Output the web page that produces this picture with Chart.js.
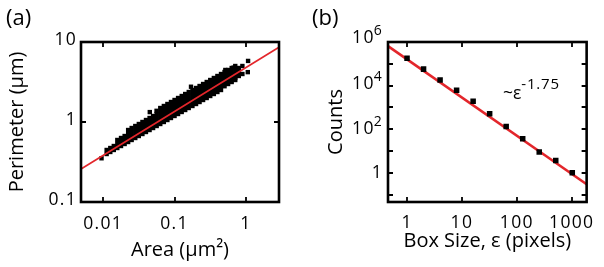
<!DOCTYPE html>
<html>
<head>
<meta charset="utf-8">
<script src="https://cdn.jsdelivr.net/npm/chart.js@4"></script>
<style>
body{margin:0;background:#fff;}
#wrap{position:relative;width:604px;height:267px;}
canvas{position:absolute;top:0;}
</style>
</head>
<body>
<div id="wrap">
<canvas id="chartA" width="300" height="267" style="left:0"></canvas>
<canvas id="chartB" width="304" height="267" style="left:300px"></canvas>
</div>
<script>
var FONT = '"Open Sans"';
var RED = '#e3262b';

// (a) perimeter vs area
var areaTicks = [0.01, 0.1, 1];
var perimTicks = [0.1, 1, 10];
var cloudArea = [
  0.0095,
  0.0112, 0.0112,
  0.0126, 0.0126,
  0.0141, 0.0141,
  0.0158, 0.0158, 0.0158,
  0.0178, 0.0178, 0.0178,
  0.0200, 0.0200, 0.0200,
  0.0224, 0.0224, 0.0224, 0.0224,
  0.0251, 0.0251, 0.0251, 0.0251,
  0.0282, 0.0282, 0.0282, 0.0282,
  0.0316, 0.0316, 0.0316, 0.0316,
  0.0355, 0.0355, 0.0355, 0.0355,
  0.0398, 0.0398, 0.0398, 0.0398,
  0.0447, 0.0447, 0.0447, 0.0447, 0.0450,
  0.0501, 0.0501, 0.0501, 0.0501,
  0.0562, 0.0562, 0.0562, 0.0562, 0.0560,
  0.0631, 0.0631, 0.0631, 0.0631, 0.0631,
  0.0708, 0.0708, 0.0708, 0.0708, 0.0708,
  0.0794, 0.0794, 0.0794, 0.0794, 0.0794,
  0.0891, 0.0891, 0.0891, 0.0891, 0.0891,
  0.100, 0.100, 0.100, 0.100, 0.100,
  0.112, 0.112, 0.112, 0.112, 0.112,
  0.126, 0.126, 0.126, 0.126, 0.126,
  0.141, 0.141, 0.141, 0.141, 0.141,
  0.158, 0.158, 0.158, 0.158, 0.158, 0.170,
  0.178, 0.178, 0.178, 0.178, 0.178,
  0.200, 0.200, 0.200, 0.200, 0.200,
  0.224, 0.224, 0.224, 0.224, 0.224,
  0.251, 0.251, 0.251, 0.251, 0.251,
  0.282, 0.282, 0.282, 0.282, 0.282,
  0.316, 0.316, 0.316, 0.316, 0.316,
  0.355, 0.355, 0.355, 0.355, 0.355,
  0.398, 0.398, 0.398, 0.398, 0.398,
  0.447, 0.447, 0.447, 0.447, 0.447,
  0.501, 0.501, 0.501, 0.501, 0.501, 0.514,
  0.562, 0.562, 0.562, 0.562, 0.562,
  0.631, 0.631, 0.631, 0.631, 0.631, 0.671,
  0.708, 0.708, 0.708, 0.708, 0.708,
  0.794, 0.794, 0.794,
  0.891, 0.891,
  1.06, 1.07
];
var cloudPerim = [
  0.352,
  0.398, 0.447,
  0.422, 0.473,
  0.447, 0.501,
  0.473, 0.531, 0.596,
  0.501, 0.562, 0.631,
  0.531, 0.596, 0.668,
  0.562, 0.631, 0.708, 0.794,
  0.596, 0.668, 0.750, 0.841,
  0.631, 0.708, 0.794, 0.891,
  0.668, 0.750, 0.841, 0.944,
  0.708, 0.794, 0.891, 1.00,
  0.750, 0.841, 0.944, 1.059,
  0.794, 0.891, 1.00, 1.122, 1.33,
  0.841, 0.944, 1.059, 1.189,
  0.891, 1.00, 1.122, 1.259, 1.38,
  0.944, 1.059, 1.189, 1.334, 1.496,
  1.00, 1.122, 1.259, 1.413, 1.585,
  1.059, 1.189, 1.334, 1.496, 1.679,
  1.122, 1.259, 1.413, 1.585, 1.778,
  1.189, 1.334, 1.496, 1.679, 1.884,
  1.259, 1.413, 1.585, 1.778, 1.995,
  1.334, 1.496, 1.679, 1.884, 2.113,
  1.413, 1.585, 1.778, 1.995, 2.239,
  1.496, 1.679, 1.884, 2.113, 2.371, 2.76,
  1.585, 1.778, 1.995, 2.239, 2.512,
  1.679, 1.884, 2.113, 2.371, 2.661,
  1.778, 1.995, 2.239, 2.512, 2.818,
  1.884, 2.113, 2.371, 2.661, 2.985,
  1.995, 2.239, 2.512, 2.818, 3.162,
  2.113, 2.371, 2.661, 2.985, 3.350,
  2.239, 2.512, 2.818, 3.162, 3.548,
  2.371, 2.661, 2.985, 3.350, 3.758,
  2.512, 2.818, 3.162, 3.548, 3.981,
  2.80, 2.985, 3.350, 3.758, 4.217, 4.47,
  2.985, 3.162, 3.548, 3.981, 4.467,
  3.162, 3.350, 3.758, 4.217, 4.732, 4.78,
  3.350, 3.548, 3.981, 4.467, 5.012,
  3.758, 4.217, 4.732,
  3.981, 5.012,
  4.2, 5.8
];
var fitArea = [0.0049, 2.9];
var fitPerim = [0.258, 8.6];

// (b) box counting
var boxSize = [1, 2, 4, 8, 16, 32, 64, 128, 256, 512, 1024];
var counts = [180000, 57000, 18000, 6100, 1900, 510, 133, 37, 9, 3.7, 1];
var fitBox = [0.45, 1870];
var fitCounts = [650000, 0.30];
var boxTicks = [1, 10, 100, 1000];
var countTicks = [0.1, 1, 10, 100, 1000, 10000, 100000, 1000000];
var countLabelExp = [0, 2, 4, 6];

function pts(xs, ys) {
  return xs.map(function(x, i){ return {x: x, y: ys[i]}; });
}

var framePlugin = {
  id: 'frame',
  afterDatasetsDraw: function(chart, args, opts) {
    var ctx = chart.ctx, a = chart.chartArea;
    var sx = chart.scales.x, sy = chart.scales.y;
    ctx.save();
    ctx.strokeStyle = '#000';
    ctx.lineWidth = 1.8;
    ctx.beginPath();
    opts.xTicks.forEach(function(v){
      var px = Math.round(sx.getPixelForValue(v));
      ctx.moveTo(px, a.bottom); ctx.lineTo(px, a.bottom - 5);
      ctx.moveTo(px, a.top); ctx.lineTo(px, a.top + 5);
    });
    opts.yTicks.forEach(function(v){
      var py = Math.round(sy.getPixelForValue(v));
      ctx.moveTo(a.left, py); ctx.lineTo(a.left + 5, py);
      ctx.moveTo(a.right, py); ctx.lineTo(a.right - 5, py);
    });
    ctx.stroke();
    ctx.lineWidth = 2.6;
    ctx.strokeRect(a.left, a.top, a.right - a.left, a.bottom - a.top);
    ctx.restore();
    // tick labels are drawn after this hook (ticks.z = 1): widen them a little
    ctx.letterSpacing = '1.3px';
  },
  afterDraw: function(chart, args, opts) {
    var ctx = chart.ctx;
    ctx.save();
    ctx.fillStyle = '#000';
    ctx.textBaseline = 'middle';
    ctx.letterSpacing = '0px';
    ctx.font = '22px ' + FONT;
    ctx.fillText(opts.panel, opts.panelX, 19);
    if (opts.supLabels) {
      var sy = chart.scales.y, a = chart.chartArea;
      var shift = {0: 0, 2: 0, 4: -2, 6: -4};
      ctx.letterSpacing = '1.3px';
      opts.supLabels.forEach(function(e){
        var py = sy.getPixelForValue(Math.pow(10, e)) + shift[e];
        var right = a.left - 5;
        ctx.textAlign = 'right';
        if (e === 0) {
          ctx.font = '17.5px ' + FONT;
          ctx.fillText('1', right, py);
          return;
        }
        ctx.font = '14px ' + FONT;
        ctx.fillText(String(e), right, py - 7);
        var sw = ctx.measureText(String(e)).width;
        ctx.font = '17.5px ' + FONT;
        ctx.fillText('10', right - sw + 1, py);
      });
      ctx.textAlign = 'left';
      ctx.letterSpacing = '0px';
      ctx.font = '17.5px ' + FONT;
      ctx.fillText('~\u03b5', 203, 94);
      var w = ctx.measureText('~\u03b5').width;
      ctx.letterSpacing = '0.8px';
      ctx.font = '15px ' + FONT;
      ctx.fillText('-1.75', 203 + w, 85);
    }
    ctx.restore();
    ctx.letterSpacing = '0px';
  }
};

function logAxis(min, max, tickVals, labelFn, fit, title, titlePad, pad, labelOffset) {
  return {
    type: 'logarithmic',
    min: min,
    max: max,
    grid: {display: false, drawTicks: false},
    border: {display: false},
    afterBuildTicks: function(s){ s.ticks = tickVals.map(function(v){ return {value: v}; }); },
    afterFit: fit,
    ticks: {
      z: 1,
      color: '#000',
      font: {family: FONT, size: 17.5},
      padding: pad,
      labelOffset: labelOffset,
      maxRotation: 0,
      autoSkip: false,
      callback: labelFn
    },
    title: {display: true, text: title, color: '#000', font: {family: FONT, size: 20}, padding: titlePad}
  };
}

new Chart(document.getElementById('chartA'), {
  type: 'scatter',
  data: {
    datasets: [
      {data: pts(fitArea, fitPerim), showLine: true, borderColor: RED, borderWidth: 1.8, pointRadius: 0, order: 0},
      {data: pts(cloudArea, cloudPerim), pointStyle: 'rect', pointRadius: 3.1, backgroundColor: '#000', borderWidth: 0, order: 1}
    ]
  },
  options: {
    responsive: false,
    animation: false,
    devicePixelRatio: 1,
    layout: {padding: {left: 0, top: 42, right: 21, bottom: 0}},
    plugins: {
      legend: {display: false},
      tooltip: {enabled: false},
      frame: {xTicks: areaTicks, yTicks: perimTicks, panel: '(a)', panelX: 6}
    },
    scales: {
      x: logAxis(0.0049, 2.9, areaTicks, function(v){ return String(v); },
        function(s){ s.height = 65; }, 'Area (\u00b5m\u00b2)', {top: 0, bottom: 5}, 12, 0),
      y: logAxis(0.1, 10, perimTicks, function(v){ return String(v); },
        function(s){ s.width = 81; }, 'Perimeter (\u00b5m)', {top: 5, bottom: 0}, 4, -2)
    }
  },
  plugins: [framePlugin]
});

new Chart(document.getElementById('chartB'), {
  type: 'scatter',
  data: {
    datasets: [
      {data: pts(boxSize, counts), pointStyle: 'rect', pointRadius: 3.9, backgroundColor: '#000', borderWidth: 0, order: 0},
      {data: pts(fitBox, fitCounts), showLine: true, borderColor: RED, borderWidth: 2.6, pointRadius: 0, order: 1}
    ]
  },
  options: {
    responsive: false,
    animation: false,
    devicePixelRatio: 1,
    layout: {padding: {left: 0, top: 42, right: 17, bottom: 0}},
    plugins: {
      legend: {display: false},
      tooltip: {enabled: false},
      frame: {xTicks: boxTicks, yTicks: countTicks, panel: '(b)', panelX: 12, supLabels: countLabelExp}
    },
    scales: {
      x: logAxis(0.45, 1870, boxTicks, function(v){ return String(v); },
        function(s){ s.height = 65; }, 'Box Size, \u03b5 (pixels)', {top: 0, bottom: 14}, 11, 0),
      y: logAxis(0.046, 1000000, countTicks, function(){ return ''; },
        function(s){ s.width = 88; }, 'Counts', {top: 24, bottom: 0}, 4, 0)
    }
  },
  plugins: [framePlugin]
});
</script>
</body>
</html>
